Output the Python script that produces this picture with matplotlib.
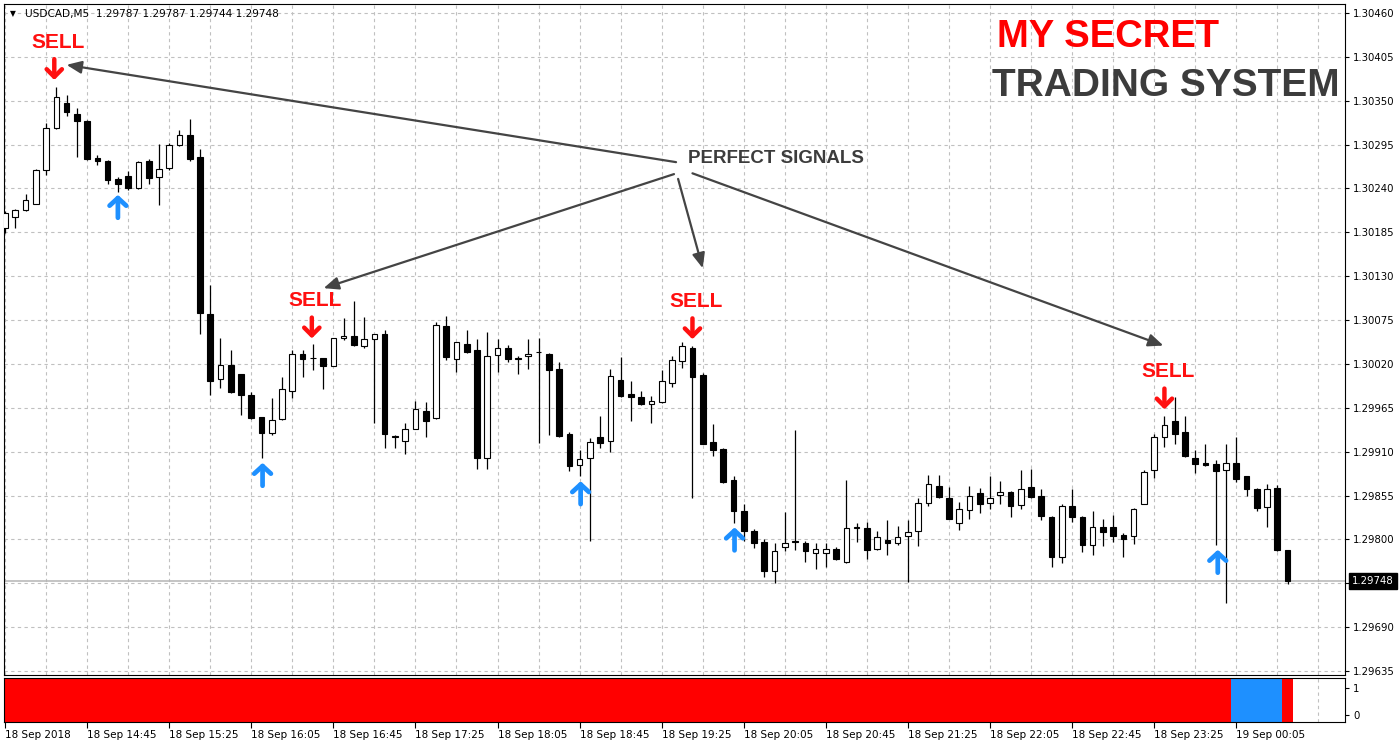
import matplotlib
matplotlib.use("Agg")
import matplotlib.pyplot as plt
import numpy as np
from matplotlib.transforms import blended_transform_factory

# USDCAD M5 candles, 18 Sep 2018 14:05 -> 19 Sep 00:30
opens = [
    1.30190, 1.30204, 1.30213, 1.30221, 1.30263, 1.30316, 1.30347, 1.30333, 1.30325, 1.30278,
    1.30275, 1.30252, 1.30255, 1.30240, 1.30274, 1.30254, 1.30266, 1.30294, 1.30307, 1.30280,
    1.30083, 1.30001, 1.30019, 1.30007, 1.29981, 1.29953, 1.29933, 1.29951, 1.29986, 1.30032,
    1.30027, 1.30027, 1.30018, 1.30052, 1.30055, 1.30042, 1.30051, 1.30057, 1.29930, 1.29923,
    1.29939, 1.29961, 1.29952, 1.30067, 1.30026, 1.30045, 1.30037, 1.29902, 1.30031, 1.30040,
    1.30027, 1.30030, 1.30035, 1.30032, 1.30014, 1.29932, 1.29893, 1.29902, 1.29929, 1.29923,
    1.30000, 1.29982, 1.29978, 1.29970, 1.29972, 1.29996, 1.30024, 1.30040, 1.30006, 1.29922,
    1.29913, 1.29874, 1.29835, 1.29810, 1.29797, 1.29761, 1.29790, 1.29798, 1.29796, 1.29783,
    1.29783, 1.29788, 1.29772, 1.29814, 1.29814, 1.29788, 1.29799, 1.29796, 1.29804, 1.29811,
    1.29846, 1.29867, 1.29852, 1.29820, 1.29837, 1.29858, 1.29846, 1.29856, 1.29860, 1.29843,
    1.29866, 1.29854, 1.29828, 1.29778, 1.29842, 1.29828, 1.29793, 1.29815, 1.29816, 1.29806,
    1.29804, 1.29845, 1.29887, 1.29928, 1.29948, 1.29935, 1.29902, 1.29896, 1.29895, 1.29887,
    1.29896, 1.29879, 1.29863, 1.29841, 1.29865, 1.29787,
]
highs = [
    1.30212, 1.30214, 1.30233, 1.30264, 1.30322, 1.30367, 1.30357, 1.30341, 1.30326, 1.30282,
    1.30276, 1.30254, 1.30262, 1.30274, 1.30277, 1.30296, 1.30297, 1.30313, 1.30327, 1.30290,
    1.30119, 1.30052, 1.30038, 1.30008, 1.29985, 1.29954, 1.29977, 1.30004, 1.30038, 1.30037,
    1.30045, 1.30028, 1.30053, 1.30077, 1.30099, 1.30079, 1.30058, 1.30062, 1.29931, 1.29946,
    1.29973, 1.29972, 1.30072, 1.30080, 1.30048, 1.30063, 1.30051, 1.30060, 1.30051, 1.30044,
    1.30030, 1.30051, 1.30053, 1.30034, 1.30023, 1.29935, 1.29912, 1.29927, 1.29955, 1.30014,
    1.30029, 1.29998, 1.29986, 1.29980, 1.30012, 1.30030, 1.30048, 1.30042, 1.30009, 1.29945,
    1.29914, 1.29880, 1.29845, 1.29813, 1.29801, 1.29796, 1.29834, 1.29937, 1.29798, 1.29796,
    1.29796, 1.29790, 1.29875, 1.29820, 1.29822, 1.29811, 1.29824, 1.29817, 1.29824, 1.29852,
    1.29881, 1.29881, 1.29866, 1.29847, 1.29867, 1.29864, 1.29879, 1.29873, 1.29861, 1.29887,
    1.29888, 1.29863, 1.29829, 1.29844, 1.29863, 1.29829, 1.29836, 1.29826, 1.29831, 1.29808,
    1.29839, 1.29887, 1.29932, 1.29955, 1.29978, 1.29955, 1.29912, 1.29920, 1.29899, 1.29920,
    1.29929, 1.29880, 1.29864, 1.29870, 1.29868, 1.29787,
]
lows = [
    1.30184, 1.30190, 1.30212, 1.30220, 1.30257, 1.30315, 1.30331, 1.30280, 1.30276, 1.30269,
    1.30245, 1.30235, 1.30238, 1.30239, 1.30246, 1.30219, 1.30263, 1.30293, 1.30274, 1.30058,
    1.29981, 1.29990, 1.29983, 1.29956, 1.29951, 1.29902, 1.29931, 1.29950, 1.29977, 1.30003,
    1.30013, 1.29989, 1.30017, 1.30050, 1.30043, 1.30040, 1.29946, 1.29915, 1.29915, 1.29907,
    1.29938, 1.29928, 1.29951, 1.30025, 1.30010, 1.30034, 1.29888, 1.29888, 1.30010, 1.30023,
    1.30007, 1.30014, 1.29921, 1.29931, 1.29929, 1.29886, 1.29879, 1.29798, 1.29915, 1.29909,
    1.29979, 1.29949, 1.29968, 1.29946, 1.29971, 1.29991, 1.30015, 1.29852, 1.29919, 1.29904,
    1.29871, 1.29821, 1.29798, 1.29789, 1.29753, 1.29745, 1.29785, 1.29787, 1.29772, 1.29763,
    1.29765, 1.29774, 1.29771, 1.29797, 1.29775, 1.29787, 1.29780, 1.29793, 1.29746, 1.29792,
    1.29842, 1.29852, 1.29825, 1.29812, 1.29825, 1.29833, 1.29838, 1.29845, 1.29828, 1.29838,
    1.29852, 1.29824, 1.29765, 1.29770, 1.29822, 1.29784, 1.29780, 1.29792, 1.29797, 1.29778,
    1.29794, 1.29844, 1.29877, 1.29916, 1.29920, 1.29903, 1.29883, 1.29892, 1.29793, 1.29720,
    1.29872, 1.29855, 1.29836, 1.29816, 1.29786, 1.29744,
]
closes = [
    1.30209, 1.30213, 1.30225, 1.30263, 1.30316, 1.30355, 1.30336, 1.30324, 1.30277, 1.30274,
    1.30250, 1.30246, 1.30240, 1.30273, 1.30253, 1.30265, 1.30295, 1.30307, 1.30277, 1.30084,
    1.29999, 1.30019, 1.29985, 1.29981, 1.29952, 1.29933, 1.29950, 1.29988, 1.30032, 1.30026,
    1.30028, 1.30018, 1.30052, 1.30055, 1.30044, 1.30051, 1.30057, 1.29932, 1.29928, 1.29939,
    1.29963, 1.29949, 1.30069, 1.30029, 1.30047, 1.30035, 1.29902, 1.30030, 1.30040, 1.30026,
    1.30026, 1.30033, 1.30035, 1.30013, 1.29930, 1.29892, 1.29901, 1.29922, 1.29921, 1.30005,
    1.29980, 1.29978, 1.29970, 1.29974, 1.29998, 1.30025, 1.30043, 1.30003, 1.29920, 1.29912,
    1.29872, 1.29836, 1.29811, 1.29796, 1.29761, 1.29785, 1.29796, 1.29797, 1.29785, 1.29788,
    1.29788, 1.29775, 1.29814, 1.29815, 1.29787, 1.29803, 1.29796, 1.29803, 1.29809, 1.29846,
    1.29870, 1.29853, 1.29826, 1.29838, 1.29854, 1.29844, 1.29852, 1.29859, 1.29842, 1.29863,
    1.29853, 1.29829, 1.29778, 1.29842, 1.29828, 1.29793, 1.29816, 1.29809, 1.29804, 1.29801,
    1.29838, 1.29885, 1.29928, 1.29944, 1.29932, 1.29904, 1.29895, 1.29893, 1.29886, 1.29896,
    1.29876, 1.29863, 1.29839, 1.29863, 1.29787, 1.29748,
]

# indicator histogram state per candle
trend = ["sell"] * 120 + ["buy"] * 5 + ["sell"]

time_labels = [
    "18 Sep 2018", "18 Sep 14:45", "18 Sep 15:25", "18 Sep 16:05", "18 Sep 16:45",
    "18 Sep 17:25", "18 Sep 18:05", "18 Sep 18:45", "18 Sep 19:25", "18 Sep 20:05",
    "18 Sep 20:45", "18 Sep 21:25", "18 Sep 22:05", "18 Sep 22:45", "18 Sep 23:25",
    "19 Sep 00:05",
]
time_label_idx = [0, 8, 16, 24, 32, 40, 48, 56, 64, 72, 80, 88, 96, 104, 112, 120]

price_levels = [
    1.30460, 1.30405, 1.30350, 1.30295, 1.30240, 1.30185, 1.30130, 1.30075,
    1.30020, 1.29965, 1.29910, 1.29855, 1.29800, 1.29745, 1.29690, 1.29635,
]

# signal arrows (candle position, price at arrow tip)
sell_x = [4.8, 29.9, 67.0, 113.0]
sell_tip = [1.30376, 1.30052, 1.30051, 1.29963]
buy_x = [11.0, 25.1, 56.1, 71.1, 118.2]
buy_tip = [1.30232, 1.29896, 1.29873, 1.29815, 1.29787]

# "PERFECT SIGNALS" call-out
callout_pos = (75.1, 1.30277)
callout_x0 = [65.4, 65.2, 65.6, 67.0]
callout_y0 = [1.30273, 1.30258, 1.30252, 1.30259]
callout_x1 = [6.0, 31.05, 68.0, 112.9]
callout_y1 = [1.30395, 1.30115, 1.30140, 1.30043]

GRID = "#c0c0c0"
BOLD_FONT = ["Liberation Sans", "DejaVu Sans"]

o = np.array(opens)
h = np.array(highs)
l = np.array(lows)
c = np.array(closes)
x = np.arange(len(o))

fig = plt.figure(figsize=(14, 7.5), dpi=100)
left, width = 3.5 / 1400, (1345 - 3.5) / 1400
ax = fig.add_axes([left, 75 / 750, width, 671.5 / 750])
ax_ind = fig.add_axes([left, 28 / 750, width, 44.5 / 750])

# candles
ax.vlines(x, l, h, color="black", lw=0.9, zorder=2)
up = c >= o
ax.bar(x[up], (c - o)[up], bottom=o[up], width=0.55, facecolor="white",
       edgecolor="black", lw=0.8, zorder=3)
ax.bar(x[~up], (o - c)[~up], bottom=c[~up], width=0.55, facecolor="black",
       edgecolor="black", lw=0.8, zorder=3)
ax.axhline(c[-1], color="#b4b4b4", lw=1.1, zorder=1)

ax.set_xlim(-0.15, 130.6)
ax.set_ylim(1.29630, 1.304719)
ax.set_xticks(np.arange(0, 131, 4))
ax.set_xticklabels([])
ax.tick_params(axis="x", length=0)
ax.yaxis.tick_right()
ax.set_yticks(price_levels)
ax.set_yticklabels(["" if abs(p - 1.29745) < 1e-7 else f"{p:.5f}" for p in price_levels])
ax.tick_params(axis="y", direction="out", length=3, width=0.8, labelsize=7.3, pad=3)
ax.grid(True, color=GRID, lw=0.8, ls=(0, (3, 3)))
ax.set_axisbelow(True)
for s in ax.spines.values():
    s.set_linewidth(0.8)

# current price tag
trans = blended_transform_factory(ax.transAxes, ax.transData)
ax.text(1.0055, c[-1], f"{c[-1]:.5f}", transform=trans, color="white", fontsize=7.3,
        va="center", ha="left",
        bbox=dict(boxstyle="square,pad=0.3", fc="black", ec="black"))

# signal arrows
for xi, p in zip(sell_x, sell_tip):
    ax.annotate("", xy=(xi, p), xytext=(0, 15), textcoords="offset points",
                arrowprops=dict(arrowstyle="->,head_length=0.55,head_width=0.55",
                                color="#ff1010", lw=3.2, shrinkA=0, shrinkB=0,
                                mutation_scale=10), zorder=5)
    ax.annotate("SELL", xy=(xi, p), xytext=(2.5, 27), textcoords="offset points",
                ha="center", va="center", color="#ff1010", fontsize=15,
                fontweight="bold", family=BOLD_FONT, zorder=5)
for xi, p in zip(buy_x, buy_tip):
    ax.annotate("", xy=(xi, p), xytext=(0, -16.5), textcoords="offset points",
                arrowprops=dict(arrowstyle="->,head_length=0.55,head_width=0.6",
                                color="#1e90ff", lw=3.4, shrinkA=0, shrinkB=0,
                                mutation_scale=10), zorder=5)

# call-out
for x0, y0, x1, y1 in zip(callout_x0, callout_y0, callout_x1, callout_y1):
    ax.annotate("", xy=(x1, y1), xytext=(x0, y0),
                arrowprops=dict(arrowstyle="-|>,head_length=0.9,head_width=0.38",
                                color="#444444", lw=1.6, shrinkA=0, shrinkB=0,
                                mutation_scale=10), zorder=4)
ax.text(*callout_pos, "PERFECT SIGNALS", ha="center", va="center", color="#3c3c3c",
        fontsize=13.5, fontweight="bold", family=BOLD_FONT, zorder=5)

# title block
ax.text(0.7406, 0.9352, "MY SECRET", transform=ax.transAxes, ha="left", va="baseline",
        color="#ff0000", fontsize=27.5, fontweight="bold", family=BOLD_FONT, zorder=6)
ax.text(0.7369, 0.8623, "TRADING SYSTEM", transform=ax.transAxes, ha="left",
        va="baseline", color="#3c3c3c", fontsize=28, fontweight="bold",
        family=BOLD_FONT, zorder=6)

# header
fig.text(13 / 1400, 1 - 14 / 750, "\u25bc", fontsize=5.5, va="center", ha="center")
fig.text(25 / 1400, 1 - 14 / 750,
         f"USDCAD,M5  {o[-1]:.5f} {h[-1]:.5f} {l[-1]:.5f} {c[-1]:.5f}",
         fontsize=7.6, va="center", ha="left")

# indicator panel
colors = ["#ff0000" if t == "sell" else "#1e90ff" for t in trend]
ax_ind.bar(x, 2.0, bottom=-0.5, width=1.0, color=colors, lw=0, zorder=2)
ax_ind.set_xlim(-0.15, 130.6)
ax_ind.set_ylim(-0.259, 1.389)
ax_ind.yaxis.tick_right()
ax_ind.set_yticks([0, 1])
ax_ind.tick_params(axis="y", direction="out", length=3, width=0.8, labelsize=7.3, pad=3)
ax_ind.set_xticks(time_label_idx)
ax_ind.set_xticklabels(time_labels)
ax_ind.set_xticks(np.arange(0, 131, 4), minor=True)
ax_ind.tick_params(axis="x", which="major", direction="out", length=4, width=0.8,
                   labelsize=7.5, pad=2)
ax_ind.tick_params(axis="x", which="minor", length=0)
for lbl in ax_ind.get_xticklabels():
    lbl.set_ha("left")
ax_ind.grid(True, which="minor", axis="x", color=GRID, lw=0.8, ls=(0, (3, 3)))
ax_ind.set_axisbelow(True)
for s in ax_ind.spines.values():
    s.set_linewidth(0.8)

fig.savefig("out.png", dpi=100, facecolor="white")
